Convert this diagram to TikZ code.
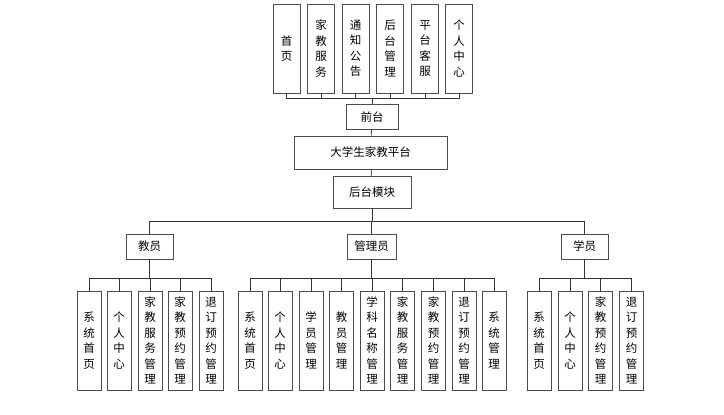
\documentclass[tikz,border=0pt]{standalone}
\usepackage{fontspec}
\setmainfont{Noto Sans CJK SC}

\tikzset{
  box/.style={draw=black!70, line width=0.9pt, fill=white, inner sep=0pt, align=center,
    font=\fontsize{11.5}{15.5}\selectfont},
  topbox/.style={box, minimum width=27pt, minimum height=89pt},
  leafbox/.style={box, minimum width=24pt, minimum height=99pt},
  midbox/.style={box, minimum height=25pt},
  link/.style={draw=black!80, line width=0.8pt},
}

\begin{document}
\begin{tikzpicture}[x=1pt,y=-1pt]
    \useasboundingbox (0,0) rectangle (724,415);
    % front part
    \foreach \i/\x/\lbl in {1/286.5/{首\\页},2/321/{家\\教\\服\\务},3/355.5/{通\\知\\公\\告},
        4/390/{后\\台\\管\\理},5/425/{平\\台\\客\\服},6/459/{个\\人\\中\\心}}
        \node[topbox] (f\i) at (\x,48.5) {\lbl};
    \node[midbox, minimum width=52pt] (front) at (372,117) {前台};
    \node[midbox, minimum width=153pt, minimum height=33pt] (sys) at (370.5,152.5) {大学生家教平台};
    \node[midbox, minimum width=78pt, minimum height=32pt] (back) at (372,192) {后台模块};
    \foreach \i in {1,...,6}
        \draw[link] (f\i.south) -- ++(0,5) -| (front.north);
    \draw[link] (front) -- (sys);
    \draw[link] (sys) -- (back);
    % roles
    \node[midbox, minimum width=47pt] (teacher) at (149.5,246.5) {教员};
    \node[midbox, minimum width=49pt] (admin) at (371.5,246.5) {管理员};
    \node[midbox, minimum width=47pt] (student) at (584.5,246.5) {学员};
    \foreach \r in {teacher,admin,student}
        \draw[link] (back.south) -- ++(0,13) -| (\r.north);
    % teacher leaves
    \foreach \i/\x/\lbl in {1/89/{系\\统\\首\\页},2/119/{个\\人\\中\\心},3/150/{家\\教\\服\\务\\管\\理},
        4/180/{家\\教\\预\\约\\管\\理},5/211/{退\\订\\预\\约\\管\\理}}
    {
        \node[leafbox] (t\i) at (\x,340.5) {\lbl};
        \draw[link] (t\i.north) -- ++(0,-12) -| (teacher.south);
    }
    % admin leaves
    \foreach \i/\x/\lbl in {1/250/{系\\统\\首\\页},2/280/{个\\人\\中\\心},3/311/{学\\员\\管\\理},
        4/341.5/{教\\员\\管\\理},5/372/{学\\科\\名\\称\\管\\理},6/402.5/{家\\教\\服\\务\\管\\理},
        7/433.5/{家\\教\\预\\约\\管\\理},8/464/{退\\订\\预\\约\\管\\理},9/494/{系\\统\\管\\理}}
    {
        \node[leafbox] (a\i) at (\x,340.5) {\lbl};
        \draw[link] (a\i.north) -- ++(0,-12) -| (admin.south);
    }
    % student leaves
    \foreach \i/\x/\lbl in {1/539/{系\\统\\首\\页},2/570/{个\\人\\中\\心},
        3/600.5/{家\\教\\预\\约\\管\\理},4/631.5/{退\\订\\预\\约\\管\\理}}
    {
        \node[leafbox] (s\i) at (\x,340.5) {\lbl};
        \draw[link] (s\i.north) -- ++(0,-12) -| (student.south);
    }
\end{tikzpicture}
\end{document}
